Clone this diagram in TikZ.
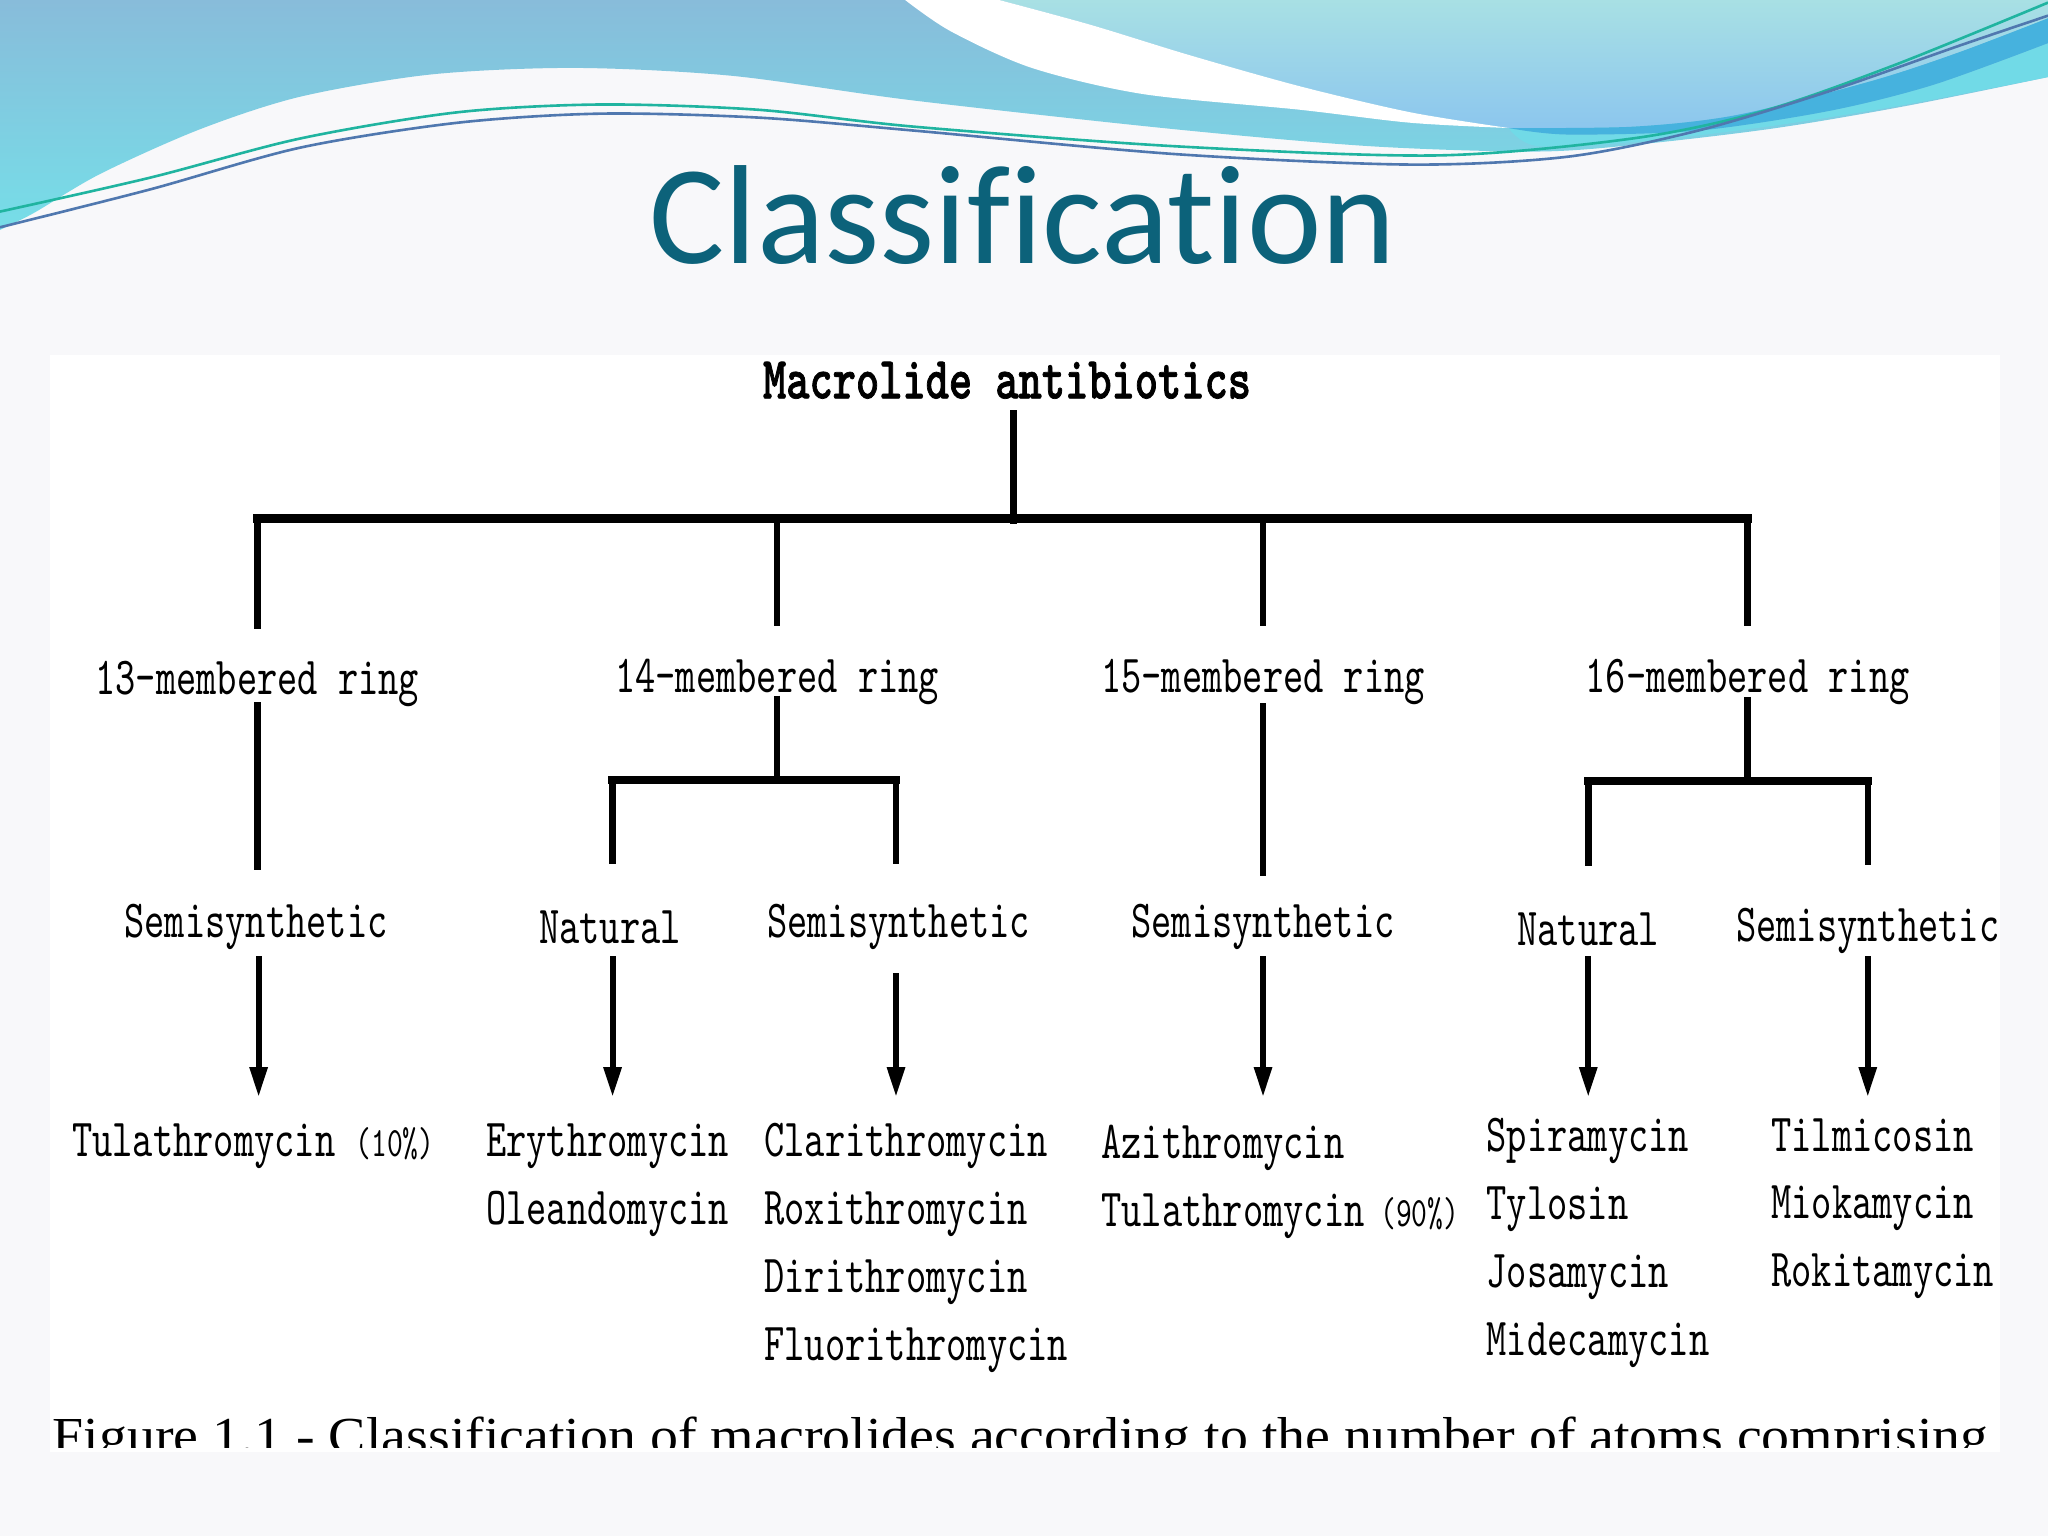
\documentclass[tikz,border=0pt]{standalone}
\usepackage{fontspec}
\usepackage{graphicx}
\usetikzlibrary{arrows.meta,calc}

\newfontfamily\titlefont{Carlito}[Ligatures={NoCommon}]
\newfontfamily\typefont{lmmono10-regular.otf}[FakeStretch=0.72]
\newfontfamily\typeboldfont{lmmonolt10-bold.otf}[FakeStretch=0.74,FakeBold=1.2]
\newfontfamily\capfont{Liberation Serif}
\newcommand\smallpct[1]{{\fontsize{32}{52}\selectfont #1}}

\definecolor{slidebg}{RGB}{248,248,250}
\definecolor{titleteal}{RGB}{12,98,122}
\definecolor{bandtop}{RGB}{136,188,218}
\definecolor{bandbot}{RGB}{118,222,232}
\definecolor{cornertop}{RGB}{168,224,228}
\definecolor{cornerbot}{RGB}{140,198,238}
\definecolor{darkband}{RGB}{70,178,222}
\definecolor{wavegreen}{RGB}{32,180,160}
\definecolor{waveblue}{RGB}{80,120,175}

\begin{document}
\begin{tikzpicture}[x=1pt,y=1pt,
  lvl/.style={font=\typefont\fontsize{41}{52}\selectfont, inner sep=0pt, anchor=base},
  list/.style={font=\typefont\fontsize{41}{52}\selectfont, inner sep=0pt, anchor=north west, align=left},
  tree/.style={line width=5pt},
  bar/.style={line width=6.5pt, line cap=rect},
  arr/.style={line width=4.5pt, -{Triangle[length=23pt,width=13pt]}}]
\useasboundingbox (0,0) rectangle (1568,-1176);
\fill[slidebg] (0,0) rectangle (1568,-1176);

% waves at the top
\shade[top color=bandtop, bottom color=bandbot] (0,0) -- (1568,0) -- plot[smooth] coordinates {(1568,-59) (1460,-81) (1360,-98) (1260,-110) (1178,-116) (1050,-112) (900,-99) (700,-77) (560,-58) (440,-52) (330,-57) (230,-74) (153,-99) (77,-133) (26,-163) (0,-176)} -- cycle;
\fill[bandbot!90!darkband] (1568,-33) -- plot[smooth] coordinates {(1568,-33) (1480,-65) (1400,-85) (1300,-100) (1200,-103) (1155,-98)} -- plot[smooth] coordinates {(1155,-98) (1178,-112) (1260,-108) (1360,-96) (1460,-80) (1568,-59)} -- cycle;
\shade[top color=cornertop, bottom color=cornerbot] (765,0) -- (1568,0) -- plot[smooth] coordinates {(1568,-14) (1500,-40) (1433,-62) (1330,-88) (1250,-97) (1155,-98)} -- plot[smooth] coordinates {(1155,-98) (1080,-86) (995,-66) (910,-42) (835,-19) (765,0)} -- cycle;
\fill[darkband] plot[smooth] coordinates {(1155,-98) (1250,-97) (1330,-88) (1433,-62) (1500,-40) (1568,-14)} -- (1568,-33) -- plot[smooth] coordinates {(1568,-33) (1480,-65) (1400,-85) (1300,-100) (1200,-103) (1155,-98)} -- cycle;
\fill[white] (693,0) -- plot[smooth] coordinates {(693,0) (728,-24) (790,-52) (875,-72) (995,-84) (1080,-94) (1155,-98)} -- plot[smooth] coordinates {(1155,-98) (1080,-86) (995,-66) (910,-42) (835,-19) (765,0)} -- cycle;
\draw[line width=2pt, wavegreen] plot[smooth] coordinates {(0,-162) (115,-136) (230,-106) (350,-86) (460,-80) (580,-84) (700,-97) (900,-112) (1100,-119) (1250,-106) (1350,-85) (1450,-50) (1568,-2)};
\draw[line width=2pt, waveblue] plot[smooth] coordinates {(0,-174) (115,-145) (230,-113) (350,-94) (460,-87) (580,-90) (700,-100) (900,-118) (1080,-126) (1200,-120) (1300,-100) (1400,-70) (1500,-35) (1568,-12)};

\node[font=\titlefont\fontsize{108}{120}\selectfont, text=titleteal, anchor=base] (title) at (783,-202) {Classification};

% the figure
\fill[white] (38,-272) rectangle (1531,-1112);

\node[font=\typeboldfont\fontsize{45.8}{50}\selectfont, inner sep=0pt, anchor=base] (mac) at (771,-305) {Macrolide antibiotics};

\node[lvl] (r13) at (197,-532) {13-membered ring};
\node[lvl] (r14) at (595,-530) {14-membered ring};
\node[lvl] (r15) at (967,-530) {15-membered ring};
\node[lvl] (r16) at (1338,-530) {16-membered ring};

\node[lvl] (s13) at (196,-718) {Semisynthetic};
\node[lvl] (n14) at (467,-722) {Natural};
\node[lvl] (s14) at (688,-718) {Semisynthetic};
\node[lvl] (s15) at (967,-718) {Semisynthetic};
\node[lvl] (n16) at (1216,-724) {Natural};
\node[lvl] (s16) at (1430,-721) {Semisynthetic};

\node[list] (d13) at (55,-860) {Tulathromycin \smallpct{(10\%)}};
\node[list] (d14a) at (372,-860) {Erythromycin\\Oleandomycin};
\node[list] (d14b) at (585,-860) {Clarithromycin\\Roxithromycin\\Dirithromycin\\Fluorithromycin};
\node[list] (d15) at (843,-861) {Azithromycin\\Tulathromycin\smallpct{\ (90\%)}};
\node[list] (d16a) at (1138,-856) {Spiramycin\\Tylosin\\Josamycin\\Midecamycin};
\node[list] (d16b) at (1356,-856) {Tilmicosin\\Miokamycin\\Rokitamycin};

% tree
\coordinate (bar) at (0,-397);
\draw[tree] ($(mac.base)+(5,-9)$) -- ($(mac.base |- bar)+(5,-4)$);
\draw[bar] (r13 |- bar) -- (r16 |- bar);
\foreach \r in {r13,r14,r15,r16}
  \draw[tree] (\r |- bar) -- ($(\r.north)+(0,25)$);

\draw[tree] ($(r13.south)+(0,4)$) -- ($(r13.south |- s13.north)+(0,26)$);
\draw[tree] ($(r15.south)+(0,1)$) -- ($(s15.north)+(0,22)$);

\coordinate (b14) at (0,-597);
\draw[tree] ($(r14.south)+(0,7)$) -- (r14 |- b14);
\draw[bar] ($(n14 |- b14)+(2,0)$) -- ($(s14 |- b14)+(-2,0)$);
\draw[tree] ($(n14 |- b14)+(2,0)$) -- ($(n14.north)+(2,35)$);
\draw[tree] ($(s14 |- b14)+(-2,0)$) -- ($(s14.north)+(-2,31)$);

\coordinate (b16) at (0,-598);
\draw[tree] ($(r16.south)+(0,6)$) -- (r16 |- b16);
\draw[bar] (n16 |- b16) -- (s16 |- b16);
\draw[tree] (n16 |- b16) -- ($(n16.north)+(0,36)$);
\draw[tree] (s16 |- b16) -- ($(s16.north)+(0,33)$);

\foreach \s/\d/\a/\b/\dx in {s13/d13/14/20/2, n14/d14a/10/20/2, s14/d14b/27/20/-2, s15/d15/14/21/0, n16/d16a/8/16/0, s16/d16b/11/16/0}
  \draw[arr] ($(\s.base)+(\dx,-\a)$) -- ($(\s.base |- \d.north)+(\dx,\b)$);

% caption, cut off at the bottom
\begin{scope}
\clip (38,-1060) rectangle (1531,-1108);
\node[anchor=base west, inner sep=0pt] (cap) at (40,-1113) {\resizebox{1482pt}{28pt}{\capfont Figure 1.1 - Classification of macrolides according to the number of atoms comprising}};
\end{scope}
\end{tikzpicture}
\end{document}
